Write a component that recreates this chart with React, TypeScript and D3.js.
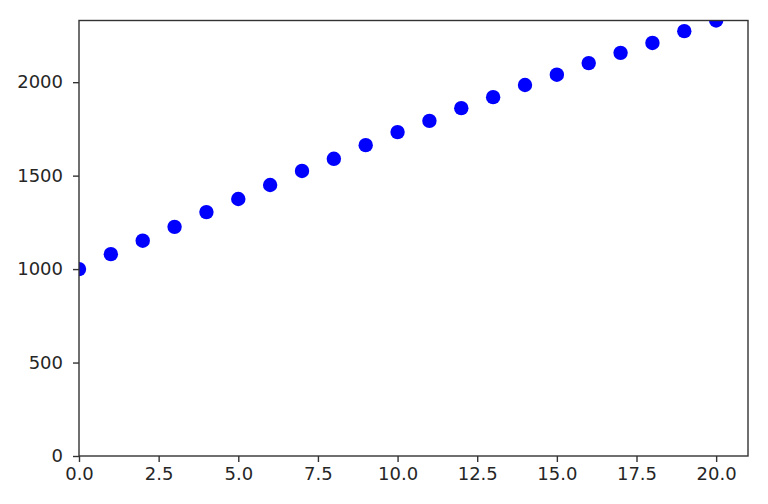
import React, { useEffect, useRef } from 'react';
import * as d3 from 'd3';

// values
const xValues = [0, 1, 2, 3, 4, 5, 6, 7, 8, 9, 10, 11, 12, 13, 14, 15, 16, 17, 18, 19, 20];
const yValues = [1000, 1080, 1152, 1226, 1305, 1375, 1450, 1525, 1590, 1663, 1733, 1793, 1861, 1920, 1985, 2040, 2102, 2157, 2210, 2273, 2330];
const xTicks = [0, 2.5, 5, 7.5, 10, 12.5, 15, 17.5, 20];
const yTicks = [0, 500, 1000, 1500, 2000];

const App: React.FC = () => {
  const svgRef = useRef<SVGSVGElement>(null);

  useEffect(() => {
    document.body.style.margin = '0';
    if (!svgRef.current) return;

    const svg = d3.select(svgRef.current);
    svg.selectAll('*').remove();

    const margin = { top: 20.5, right: 20, bottom: 48, left: 79 };
    const width = 768;
    const height = 504;
    const innerW = width - margin.left - margin.right;
    const innerH = height - margin.top - margin.bottom;

    const x = d3.scaleLinear().domain([0, 21]).range([0, innerW]);
    const y = d3.scaleLinear().domain([0, 2330]).range([innerH, 0]);

    const g = svg.append('g')
      .attr('transform', `translate(${margin.left},${margin.top})`);

    svg.append('defs')
      .append('clipPath')
      .attr('id', 'plot-clip')
      .append('rect')
      .attr('width', innerW)
      .attr('height', innerH);

    // Points
    g.append('g')
      .attr('clip-path', 'url(#plot-clip)')
      .selectAll('circle')
      .data(xValues)
      .enter()
      .append('circle')
      .attr('cx', (d) => x(d))
      .attr('cy', (_, i) => y(yValues[i]))
      .attr('r', 7.2)
      .attr('fill', '#0000ff');

    const textColor = '#262626';
    const fontSize = '18px';

    // X axis
    const xAxis = g.append('g')
      .attr('transform', `translate(0,${innerH})`)
      .call(d3.axisBottom(x).tickValues(xTicks).tickSize(6).tickPadding(5).tickFormat(d3.format('.1f')));
    xAxis.select('.domain').remove();

    // Y axis
    const yAxis = g.append('g')
      .call(d3.axisLeft(y).tickValues(yTicks).tickSize(6).tickPadding(10).tickFormat(d3.format('d')));
    yAxis.select('.domain').remove();

    [xAxis, yAxis].forEach((ax) => {
      ax.selectAll('line').attr('stroke', '#333').attr('stroke-width', 1.4);
      ax.selectAll('text')
        .attr('fill', textColor)
        .style('font-family', 'DejaVu Sans, sans-serif')
        .style('font-size', fontSize);
    });

    // Frame
    g.append('rect')
      .attr('width', innerW)
      .attr('height', innerH)
      .attr('fill', 'none')
      .attr('stroke', '#333')
      .attr('stroke-width', 1.4);
  }, []);

  return <svg ref={svgRef} width={768} height={504} style={{ display: 'block', background: '#fff' }} />;
};

export default App;
